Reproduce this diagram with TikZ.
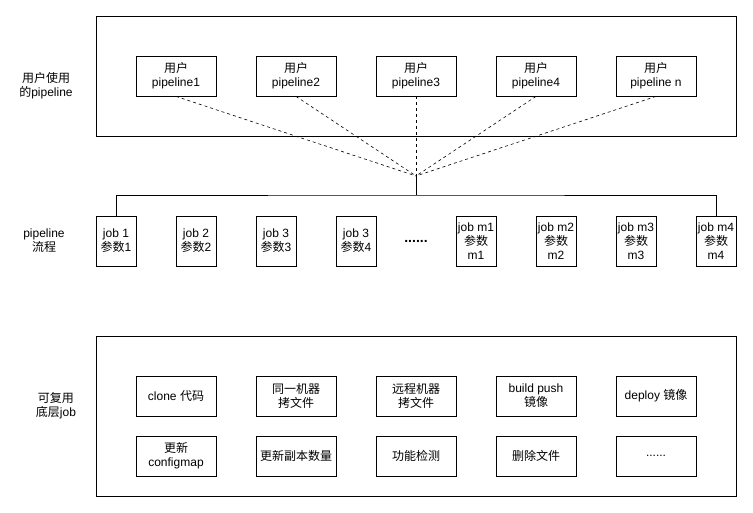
\documentclass[tikz,border=0pt]{standalone}
\usepackage{fontspec}
\setmainfont{Liberation Sans}
\newfontfamily\cjk{Noto Sans CJK SC}
\usetikzlibrary{positioning}

\begin{document}
\begin{tikzpicture}[x=1pt,y=-1pt,line width=0.8pt,
        font=\fontsize{12}{14}\selectfont,
        box/.style={draw, minimum width=80, minimum height=40, inner sep=0pt, align=center},
        jobbox/.style={draw, minimum width=40, minimum height=50, inner sep=0pt, align=center},
        lbl/.style={align=center, inner sep=0pt},
        link/.style={dash pattern=on 3pt off 3pt, line width=0.6pt}]
        \useasboundingbox (0,0) rectangle (753,513);

        % frames
        \draw (96,16) rectangle (736,136);
        \draw (96,336) rectangle (736,496);

        % row labels
        \node[lbl] (lbluser) at (46,86) {{\cjk 用户使用}\\{\cjk 的}pipeline};
        \node[lbl] (lblflow) at (44,241) {pipeline\\{\cjk 流程}};
        \node[lbl] (lblbase) at (56,406) {{\cjk 可复用}\\{\cjk 底层}job};

        % user pipelines
        \foreach \i/\txt in {1/pipeline1,2/pipeline2,3/pipeline3,4/pipeline4,5/pipeline n}
            \node[box] (p\i) at (56+120*\i,76) {{\cjk 用户}\\\txt};

        \coordinate (hub) at (416,176);
        \coordinate (bus) at (416,195);
        \foreach \i in {1,...,5}
            \draw[link] (p\i.south) -- (hub);

        % pipeline jobs
        \node[jobbox] (j1) at (116,241) {job 1\\{\cjk 参数}1};
        \node[jobbox] (j2) at (196,241) {job 2\\{\cjk 参数}2};
        \node[jobbox] (j3) at (276,241) {job 3\\{\cjk 参数}3};
        \node[jobbox] (j4) at (356,241) {job 3\\{\cjk 参数}4};
        \node[font=\fontsize{14}{14}\selectfont\bfseries] (jdots) at (416,241) {......};
        \foreach \i/\x in {1/476,2/556,3/636,4/716}
            \node[jobbox] (m\i) at (\x,241) {job m\i\\{\cjk 参数}\\m\i};

        \draw (hub) -- (bus);
        \draw (j1.north) |- (bus) -| (m4.north);

        % reusable jobs
        \node[box] (b1) at (176,396) {clone {\cjk 代码}};
        \node[box] (b2) at (296,396) {{\cjk 同一机器}\\{\cjk 拷文件}};
        \node[box] (b3) at (416,396) {{\cjk 远程机器}\\{\cjk 拷文件}};
        \node[box] (b4) at (536,396) {build push\\{\cjk 镜像}};
        \node[box] (b5) at (656,396) {deploy {\cjk 镜像}};
        \node[box] (b6) at (176,456) {{\cjk 更新}\\configmap};
        \node[box] (b7) at (296,456) {{\cjk 更新副本数量}};
        \node[box] (b8) at (416,456) {{\cjk 功能检测}};
        \node[box] (b9) at (536,456) {{\cjk 删除文件}};
        \node[box] (b10) at (656,456) {......};
\end{tikzpicture}
\end{document}
